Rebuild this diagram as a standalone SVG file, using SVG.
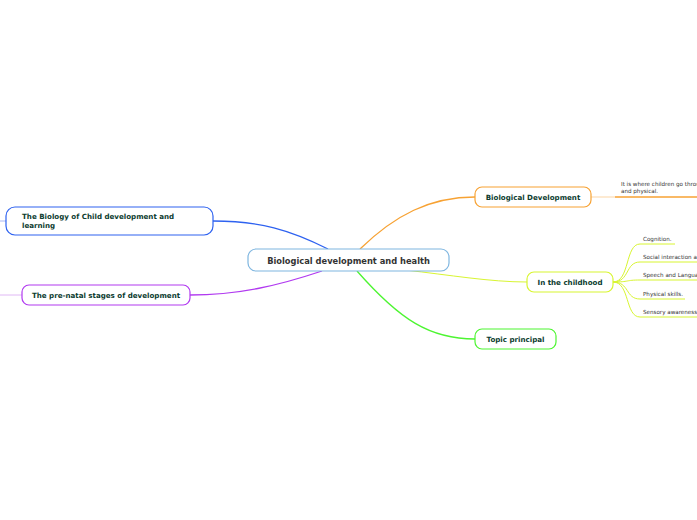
<svg xmlns="http://www.w3.org/2000/svg" width="697" height="520" viewBox="0 0 697 520">
<style>
text{font-family:Verdana,"DejaVu Sans",sans-serif;font-weight:bold;fill:#0b3b2e;font-size:7.1px}
.s{font-weight:normal;fill:#333;font-size:5.6px}
.n{fill:#fff;stroke-width:1.2}
.c{fill:none}
</style>
<rect width="697" height="520" fill="#fff"/>
<g id="connectors" class="c">
<path d="M360 249 C395 215,430 197,475 197" stroke="#f7a233" stroke-width="1.3"/>
<path d="M405 270 C450 275,490 282,527 282" stroke="#d8f531" stroke-width="1"/>
<path d="M357 271 C400 320,430 339,475 339" stroke="#4df531" stroke-width="1.3"/>
<path d="M328 249 C290 230,260 221,213 221" stroke="#2e62f0" stroke-width="1.3"/>
<path d="M322 271 C280 285,240 295,190 295" stroke="#b13af0" stroke-width="1.3"/>
<path d="M6 221 L0 221" stroke="#a8b8f5"/>
<path d="M22 295 L0 295" stroke="#e0b8f5"/>
<path d="M591 197 L615 197" stroke="#fbd5a5"/>
<path d="M615 197 L697 197" stroke="#f7a233" stroke-width="1.5"/>
<g stroke="#d8f531">
<path d="M613 282 C630 282,625 244,640 244 L675 244"/>
<path d="M613 282 C630 282,625 262,640 262 L697 262"/>
<path d="M613 282 C630 282,625 280,640 280 L697 280"/>
<path d="M613 282 C630 282,625 299,640 299 L685 299"/>
<path d="M613 282 C630 282,625 317,640 317 L697 317"/>
</g>
</g>
<g id="root"><rect class="n" x="248" y="249" width="201" height="22" rx="8" stroke="#7fb6e0" stroke-width="1.5"/><text x="348.5" y="264" text-anchor="middle" style="font-size:8.3px;fill:#333">Biological development and health</text></g>
<g id="bio"><rect class="n" x="475" y="187" width="116" height="20" rx="7" stroke="#f7a233"/><text x="533" y="200" text-anchor="middle">Biological Development</text></g>
<g id="bio-note"><text class="s" x="621" y="186">It is where children go through</text><text class="s" x="621" y="193">and physical.</text></g>
<g id="child"><rect class="n" x="527" y="272" width="86" height="20" rx="7" stroke="#d8f531"/><text x="570" y="285" text-anchor="middle">In the childhood</text></g>
<g id="c1"><text class="s" x="643" y="241">Cognition.</text></g>
<g id="c2"><text class="s" x="643" y="259">Social interaction and</text></g>
<g id="c3"><text class="s" x="643" y="277">Speech and Language</text></g>
<g id="c4"><text class="s" x="643" y="296">Physical skills.</text></g>
<g id="c5"><text class="s" x="643" y="314">Sensory awareness.</text></g>
<g id="topic"><rect class="n" x="475" y="329" width="81" height="20" rx="7" stroke="#4df531"/><text x="515.5" y="342" text-anchor="middle">Topic principal</text></g>
<g id="biology"><rect class="n" x="6" y="207" width="207" height="28" rx="9" stroke="#2e62f0"/><text x="22" y="219">The Biology of Child development and</text><text x="22" y="228">learning</text></g>
<g id="prenatal"><rect class="n" x="22" y="285" width="168" height="20" rx="7" stroke="#b13af0"/><text x="106" y="298" text-anchor="middle">The pre-natal stages of development</text></g>
</svg>
